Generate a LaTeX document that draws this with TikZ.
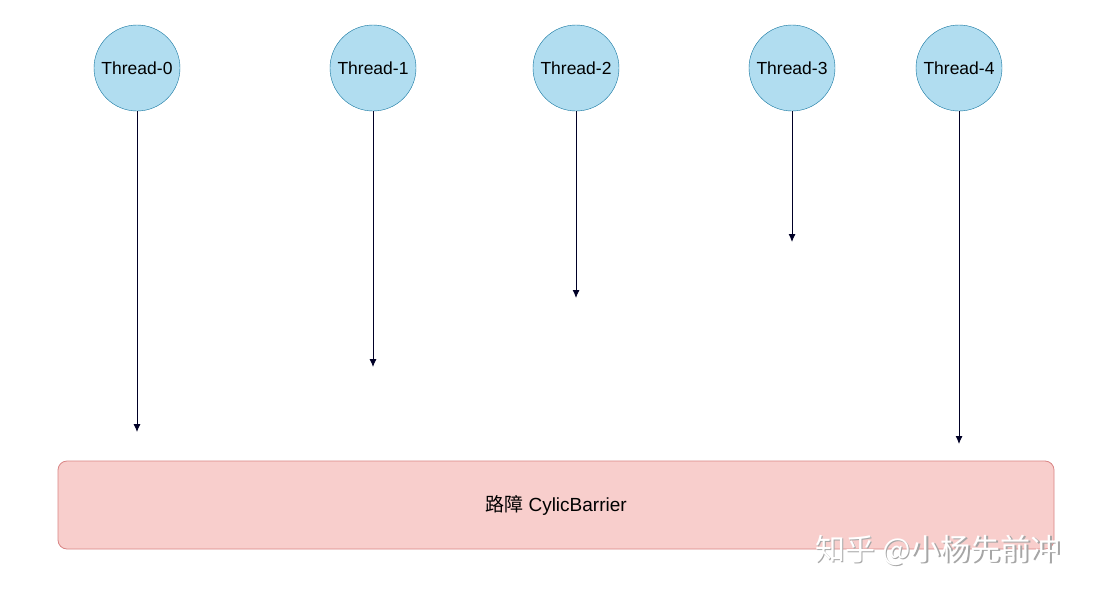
\documentclass[tikz,border=0pt]{standalone}
\usepackage{fontspec}
\usetikzlibrary{arrows.meta}
\setmainfont{Liberation Sans}
\newfontfamily\cjk{Noto Sans CJK SC}
\definecolor{cfill}{HTML}{B1DDF0}
\definecolor{cline}{HTML}{10739E}
\definecolor{bfill}{HTML}{F8CECC}
\definecolor{bline}{HTML}{D98585}
\tikzset{thr/.style={circle,draw=cline,fill=cfill,minimum size=86pt,inner sep=0pt,font=\fontsize{17.5}{17.5}\selectfont},
arr/.style={-{Latex[length=8pt,width=7pt]},draw=black!85!blue,line width=0.9pt}}
\begin{document}
\begin{tikzpicture}[x=1pt,y=-1pt]
\useasboundingbox[fill=white] (0,0) rectangle (1100,600);
\node[thr] (t0) at (137,68) {Thread-0};
\node[thr] (t1) at (373,68) {Thread-1};
\node[thr] (t2) at (576,68) {Thread-2};
\node[thr] (t3) at (792,68) {Thread-3};
\node[thr] (t4) at (959,68) {Thread-4};
\coordinate (e0) at (137,432);
\coordinate (e1) at (373,367);
\coordinate (e2) at (576,298);
\coordinate (e3) at (792,242);
\coordinate (e4) at (959,444);
\foreach \i in {0,...,4} \draw[arr] (t\i) -- (e\i);
\node[draw=bline,fill=bfill,rounded corners=9pt,minimum width=996pt,minimum height=88pt,line width=0.8pt,font=\fontsize{19}{19}\selectfont] (bar) at (556,505) {{\cjk 路障} CylicBarrier};
\node[font=\cjk\fontsize{30}{30}\selectfont,text=gray!70] (wm0) at (939.5,551.5) {知乎 @小杨先前冲};
\node[font=\cjk\fontsize{30}{30}\selectfont,text=white] (wm) at (938,550) {知乎 @小杨先前冲};
\end{tikzpicture}
\end{document}
